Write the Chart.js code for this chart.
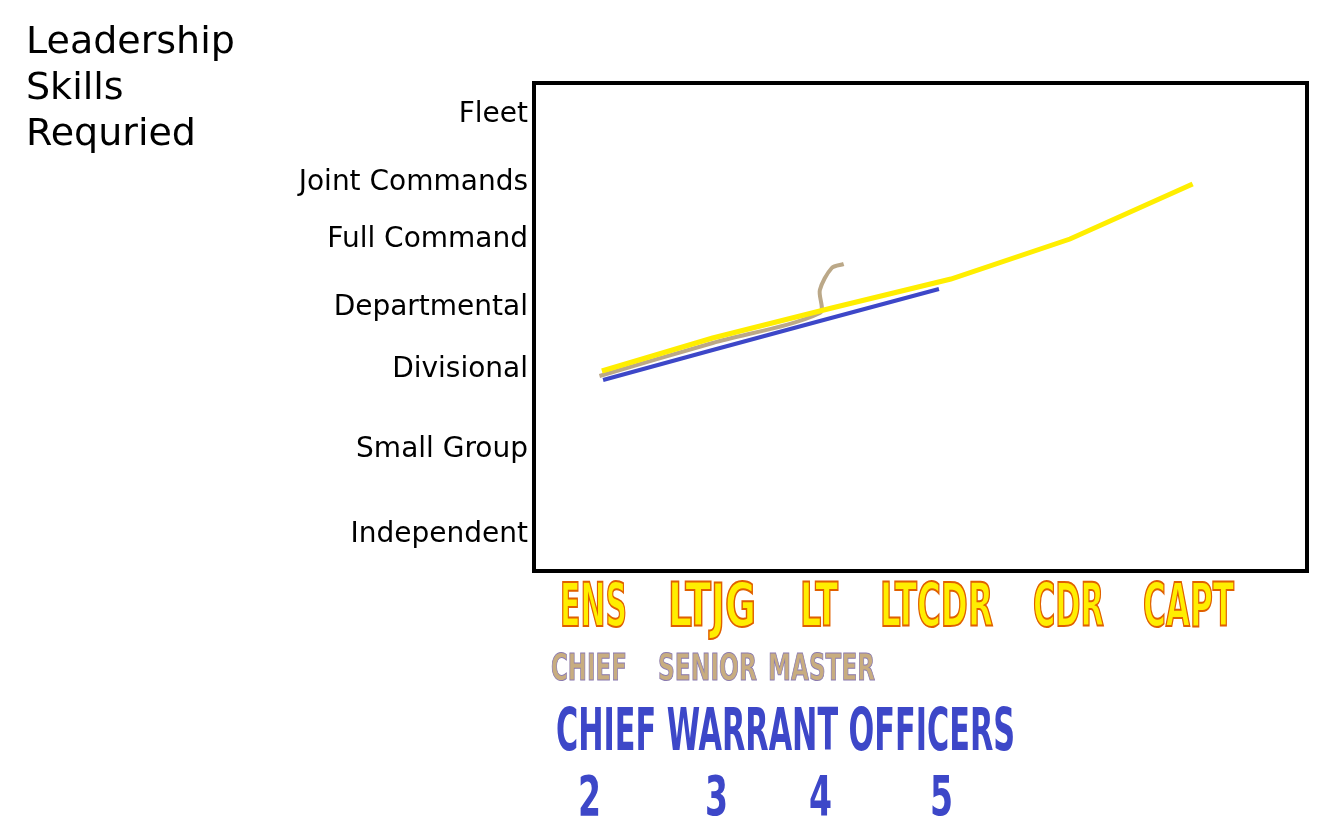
<!DOCTYPE html><html><head><style>body{margin:0;background:#fff}</style>
<script src="https://cdn.jsdelivr.net/npm/chart.js@4/dist/chart.umd.min.js"></script></head><body>
<canvas id="c" width="1318" height="823"></canvas>
<script>
const officerRanks=["Ens","LTJG","LT","LTCDR","CDR","CAPT"];
const chiefRanks=["Chief","Senior","Master"];
const warrantRanks=["2","3","4","5"];
const levelLabels=["Independent","Small Group","Divisional","Departmental","Full Command","Joint Commands","Fleet"];
const levelValues=[34,119,199,261,329,386,454];
const officerX=[0.07,1,2,3,4,5.03];
const officerY=[200,233,263,292,332,387];
const chiefX=[0.05,1,1.9,1.9,2.0,2.1];
const chiefY=[195,228,258,281,303,307];
const warrantX=[0.08,1,1.9,2.9];
const warrantY=[191,221,250,282];
const toPts=(xs,ys)=>xs.map((x,i)=>({x,y:ys[i]}));
function fitText(c,t,l,r,y,stroke){const w=c.measureText(t).width;const s=(r-l)/w;c.save();c.translate(l,y);c.scale(s,1);c.fillText(t,0,0);if(stroke)c.strokeText(t,0,0);c.restore();}
const labelsPlugin={id:'lbl',afterDraw(ch){
 const c=ch.ctx,ys=ch.scales.y,a=ch.chartArea;
 c.save();
 c.strokeStyle='#000';c.lineWidth=4;c.strokeRect(a.left,a.top,a.right-a.left,a.bottom-a.top);
 c.fillStyle='#000';c.font='28px "DejaVu Sans"';c.textAlign='right';c.textBaseline='middle';
 levelLabels.forEach((l,i)=>c.fillText(l,528,ys.getPixelForValue(levelValues[i])-2));
 c.textAlign='left';c.font='38px "DejaVu Sans"';
 ["Leadership","Skills","Requried"].forEach((t,i)=>c.fillText(t,26,43+i*46));
 c.textBaseline='alphabetic';
 c.font='bold 60px "DejaVu Sans Condensed"';c.lineWidth=2;c.strokeStyle='#e06000';c.fillStyle='#ffee00';
 const oB=[[560,627],[668,756],[800,838],[880,993],[1033,1104],[1143,1234]];
 officerRanks.forEach((r,i)=>fitText(c,r.toUpperCase(),oB[i][0],oB[i][1],626,true));
 c.font='bold 38px "DejaVu Sans Condensed"';c.fillStyle='#c8ad80';c.strokeStyle='#8a7ab0';c.lineWidth=1;
 const cB=[[551,627],[658,757],[768,875]];
 chiefRanks.forEach((r,i)=>fitText(c,r.toUpperCase(),cB[i][0],cB[i][1],680,true));
 c.font='bold 58px "DejaVu Sans Condensed"';c.fillStyle='#3d47c8';
 fitText(c,"CHIEF WARRANT OFFICERS",556,1015,750,false);
 c.font='bold 56px "DejaVu Sans Condensed"';
 [578,705,809,930].forEach((x,i)=>fitText(c,warrantRanks[i],x,x+23,815,false));
 c.restore();}};
new Chart(document.getElementById('c'),{type:'line',
 data:{datasets:[
  {data:toPts(officerX,officerY),borderColor:'#ffee00',borderWidth:5,pointRadius:0,tension:0},
  {data:toPts(warrantX,warrantY),borderColor:'#3d47c8',borderWidth:4,pointRadius:0,tension:0},
  {data:toPts(chiefX,chiefY),borderColor:'#bba888',borderWidth:4,pointRadius:0,tension:0.3}]},
 options:{responsive:false,animation:false,layout:{padding:{left:534,top:83,right:11,bottom:252}},
  plugins:{legend:{display:false},tooltip:{enabled:false}},
  scales:{x:{type:'linear',min:-0.5,max:5.99,display:false},y:{min:0,max:488,display:false}}},
 plugins:[labelsPlugin]});
</script></body></html>
